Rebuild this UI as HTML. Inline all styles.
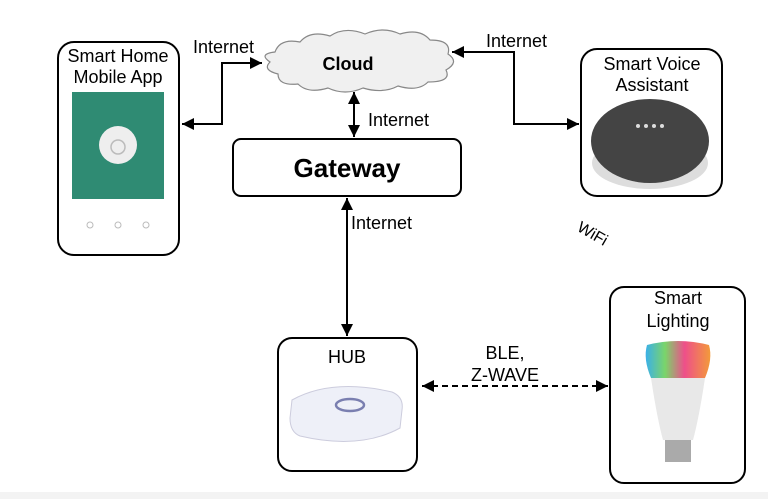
<!DOCTYPE html>
<html><head><meta charset="utf-8"><style>
html,body{margin:0;padding:0;background:#fff;}
svg{display:block;font-family:"Liberation Sans",sans-serif;}
</style></head><body>
<svg width="768" height="499" viewBox="0 0 768 499" xmlns="http://www.w3.org/2000/svg">
<defs>
<marker id="a" viewBox="0 0 10 10" refX="10" refY="5" markerWidth="6" markerHeight="6" orient="auto-start-reverse"><path d="M0,0 L10,5 L0,10 z" fill="#000"/></marker>
<linearGradient id="bulb" x1="0" x2="1"><stop offset="0" stop-color="#3bb0e8"/><stop offset="0.3" stop-color="#7ad56a"/><stop offset="0.6" stop-color="#ee4f8a"/><stop offset="1" stop-color="#f39a3a"/></linearGradient>
</defs>
<rect x="0" y="492" width="768" height="7" fill="#f3f3f3"/>
<!-- phone -->
<rect x="58" y="42" width="121" height="213" rx="16" fill="#fff" stroke="#000" stroke-width="2"/>
<text x="118" y="62" font-size="18" text-anchor="middle">Smart Home</text>
<text x="118" y="83" font-size="18" text-anchor="middle">Mobile App</text>
<rect x="72" y="92" width="92" height="107" fill="#2f8b73"/>
<circle cx="118" cy="145" r="19" fill="#eeeeee"/>
<circle cx="118" cy="147" r="7" fill="none" stroke="#bbb" stroke-width="1.5"/>
<circle cx="90" cy="225" r="3" fill="none" stroke="#bbb"/><circle cx="118" cy="225" r="3" fill="none" stroke="#bbb"/><circle cx="146" cy="225" r="3" fill="none" stroke="#bbb"/>
<!-- cloud -->
<path d="M275,52 q5,-14 25,-10 q10,-12 30,-6 q15,-10 35,-2 q18,-8 35,0 q20,-6 30,6 q22,0 18,14 q12,8 -2,16 q6,12 -18,12 q-10,10 -30,4 q-15,8 -35,2 q-18,8 -35,0 q-20,6 -30,-4 q-20,2 -20,-10 q-16,-4 -8,-12 q-12,-8 5,-10 z" fill="#f0f0f0" stroke="#888" stroke-width="1.2"/>
<text x="348" y="70" font-size="18" font-weight="bold" text-anchor="middle">Cloud</text>
<!-- gateway -->
<rect x="233" y="139" width="228" height="57" rx="8" fill="#fff" stroke="#000" stroke-width="2"/>
<text x="347" y="177" font-size="26" font-weight="bold" text-anchor="middle">Gateway</text>
<!-- voice -->
<rect x="581" y="49" width="141" height="147" rx="16" fill="#fff" stroke="#000" stroke-width="2"/>
<text x="652" y="70" font-size="18" text-anchor="middle">Smart Voice</text>
<text x="652" y="91" font-size="18" text-anchor="middle">Assistant</text>
<ellipse cx="650" cy="163" rx="58" ry="26" fill="#ddd"/>
<ellipse cx="650" cy="141" rx="59" ry="42" fill="#444"/>
<circle cx="638" cy="126" r="2" fill="#ddd"/><circle cx="646" cy="126" r="2" fill="#ddd"/><circle cx="654" cy="126" r="2" fill="#ddd"/><circle cx="662" cy="126" r="2" fill="#ddd"/>
<text x="593" y="239" font-size="16" text-anchor="middle" transform="rotate(30 593 233)">WiFi</text>
<!-- hub -->
<rect x="278" y="338" width="139" height="133" rx="14" fill="#fff" stroke="#000" stroke-width="2"/>
<text x="347" y="363" font-size="18" text-anchor="middle">HUB</text>
<path d="M292,400 q40,-22 100,-8 q12,5 10,18 l-2,18 q-40,22 -100,8 q-10,-4 -10,-18 z" fill="#eef0f8" stroke="#ccd" />
<ellipse cx="350" cy="405" rx="14" ry="6" fill="none" stroke="#7a7fb0" stroke-width="2.5"/>
<!-- lighting -->
<rect x="610" y="287" width="135" height="196" rx="14" fill="#fff" stroke="#000" stroke-width="2"/>
<text x="678" y="304" font-size="18" text-anchor="middle">Smart</text>
<text x="678" y="327" font-size="18" text-anchor="middle">Lighting</text>
<path d="M647,345 q31,-8 62,0 q4,14 -4,33 l-54,0 q-8,-19 -4,-33 z" fill="url(#bulb)"/>
<path d="M651,378 l54,0 q-6,40 -12,62 l-30,0 q-6,-22 -12,-62 z" fill="#e8e8e8"/>
<rect x="665" y="440" width="26" height="22" fill="#aaa"/>
<!-- connectors -->
<g stroke="#000" stroke-width="2" fill="none">
<polyline points="262,63 222,63 222,124 182,124" marker-start="url(#a)" marker-end="url(#a)"/>
<line x1="354" y1="92" x2="354" y2="137" marker-start="url(#a)" marker-end="url(#a)"/>
<polyline points="452,52 514,52 514,124 579,124" marker-start="url(#a)" marker-end="url(#a)"/>
<line x1="347" y1="198" x2="347" y2="336" marker-start="url(#a)" marker-end="url(#a)"/>
<line x1="422" y1="386" x2="608" y2="386" stroke-dasharray="6,4" marker-start="url(#a)" marker-end="url(#a)"/>
</g>
<g font-size="18">
<text x="193" y="53">Internet</text>
<text x="486" y="47">Internet</text>
<text x="368" y="126">Internet</text>
<text x="351" y="229">Internet</text>
<text x="505" y="359" text-anchor="middle">BLE,</text>
<text x="505" y="381" text-anchor="middle">Z-WAVE</text>
</g>
</svg>
</body></html>
